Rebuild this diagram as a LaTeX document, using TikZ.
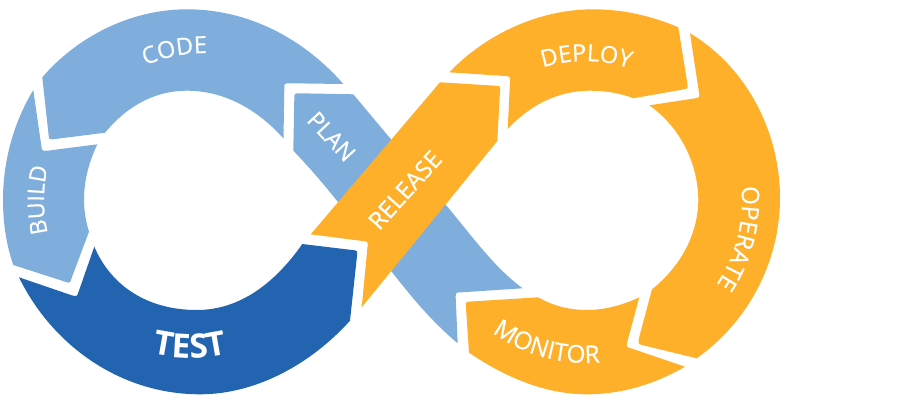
\documentclass[tikz,border=0pt]{standalone}
\usepackage{fontspec}
\usetikzlibrary{decorations.text}
\setmainfont{Open Sans}
\newfontfamily\medfont{Open Sans}[RawFeature={embolden=0.5}]
\definecolor{lblue}{HTML}{7FAEDD}
\definecolor{dblue}{HTML}{2264B0}
\definecolor{amber}{HTML}{FFB02B}
\tikzset{
  seglight/.style={fill=lblue,draw=none},
  segdark/.style={fill=dblue,draw=none},
  segamber/.style={fill=amber,draw=none},
  lab/.style={text=white,inner sep=0pt,font=\fontsize{22}{24}\selectfont\medfont}
}
% centre x, centre y, radius, start angle, end angle, font commands, text
\newcommand{\curvelab}[7]{%
  \path[decorate,decoration={text along path,text align=center,
      text={|\color{white}#6|#7}}]
    plot[domain=#4:#5,samples=61] ({#1+#3*cos(\x)},{#2+#3*sin(\x)});}
\begin{document}
\begin{tikzpicture}[x=1pt,y=-1pt]
\useasboundingbox (0,0) rectangle (898,400);
% PLAN ribbon
\fill[seglight] (353.3,94.3) -- (446,205) .. controls (475,240) and (495,268) .. (522.7,288.3)
  -- (461.7,292.3) .. controls (455.7,292.5) .. (455.7,297.5) -- (457.7,343.3)
  .. controls (430,320) and (410,295) .. (391.7,271.7) -- (337.7,201.7)
  .. controls (322,182) and (308,166) .. (293.3,150.7)
  -- (294.3,99) .. controls (294.3,93.3) .. (300,93.3) -- cycle;
% CODE
\fill[seglight] (42.3,77.3) .. controls (77,37) and (130,9.3) .. (187,9.3)
  .. controls (250,9.3) and (305,40) .. (343.3,84)
  -- (290,83.3) .. controls (284.3,83.3) .. (284.3,89) -- (283.5,138.5)
  .. controls (258,110) and (225,90.7) .. (186.7,90.7)
  .. controls (155,90.7) and (127,106) .. (105,132.7)
  -- (55,139) .. controls (49,139.8) .. (48.5,134) -- cycle;
% BUILD
\fill[seglight] (33.3,90) -- (41.2,145) .. controls (42,151) .. (47.5,150.7) -- (97.3,144.3)
  .. controls (89,162) and (84,180) .. (84,200)
  .. controls (84,211) and (86,222) .. (89,231.7)
  -- (72,277) .. controls (70,283.5) .. (64.5,281.5) -- (13.3,265)
  .. controls (6,244) and (3,222) .. (3,200)
  .. controls (3,160) and (14,122) .. (33.3,90) -- cycle;
% TEST
\fill[segdark] (19,277.3) -- (71.7,295.3) .. controls (77,296.5) .. (78.5,292) -- (94.3,246.7)
  .. controls (112,288) and (150,310) .. (196.7,310)
  .. controls (240,310) and (275,283) .. (302.3,244)
  -- (352,250) .. controls (357.5,250.5) .. (357,256) -- (350,320.7)
  .. controls (310,365) and (255,394.3) .. (200,394.3)
  .. controls (120,394.3) and (52,345) .. (19,277.3) -- cycle;
% RELEASE
\fill[segamber] (440,82.3) -- (495,85.7) .. controls (500.5,86) .. (500,91.5) -- (497.3,141) -- (361.7,307.3)
  -- (367.5,247) .. controls (368,241.5) .. (362.5,241) -- (310.7,234.3) -- cycle;
% DEPLOY
\fill[segamber] (449.3,72.3) .. controls (485,35) and (538,9.3) .. (593.3,9.3)
  .. controls (623,9.3) and (652,16) .. (678.3,27.3)
  -- (687.3,83) .. controls (688,88.5) .. (683,89.5) -- (633.3,98.3)
  .. controls (620,93) and (605,90.7) .. (590,90.7)
  .. controls (558,90.7) and (530,105) .. (507.7,129)
  -- (510,82) .. controls (510.3,76.5) .. (505,76) -- cycle;
% OPERATE
\fill[segamber] (690,33.3) .. controls (745,66) and (780,130) .. (780,198)
  .. controls (780,262) and (748,322) .. (696.7,358.3)
  -- (644,345.5) .. controls (638,344) .. (639,338) -- (652,289.3)
  .. controls (680,267) and (698,235) .. (698.3,200)
  .. controls (698,163) and (680,127) .. (649.3,105.3)
  -- (694,98.5) .. controls (699.8,97.5) .. (699,92.5) -- cycle;
% MONITOR
\fill[segamber] (538.3,297.3) .. controls (553,306) and (570,310) .. (586.7,310)
  .. controls (605,310) and (623,305) .. (639.3,297.3)
  -- (627.5,341) .. controls (626,347) .. (631.5,348.5) -- (685,366.7)
  .. controls (655,384) and (622,394.3) .. (586.7,394.3)
  .. controls (545,394.3) and (505,377) .. (469,352.7)
  -- (466,307) .. controls (465.8,301.8) .. (471,301.5) -- cycle;
% labels
\curvelab{205}{200}{147}{-136.5}{-66.5}{\medfont\fontsize{23.5}{26}\selectfont}{CODE}
\curvelab{190}{200}{146}{145}{215}{\medfont\fontsize{23}{25}\selectfont}{BUILD}
\curvelab{190}{200}{158}{130}{50}{\fontsize{33.5}{36}\selectfont\bfseries}{TEST}
\node[lab,rotate=-47,font=\fontsize{23}{25}\selectfont\medfont] (plan) at (331.5,136.5) {PLAN};
\node[lab,rotate=48,font=\fontsize{24}{26}\selectfont\medfont] (release) at (405,190) {RELEASE};
\curvelab{585}{200}{139}{-124.5}{-54.5}{\medfont\fontsize{23.5}{26}\selectfont}{DEPLOY}
\curvelab{590}{200}{152}{-35.7}{64.3}{\medfont\fontsize{24}{27}\selectfont}{OPERATE}
\curvelab{587}{200}{163}{145.5}{65.5}{\medfont\fontsize{24.5}{26}\selectfont}{MONITOR}
\end{tikzpicture}
\end{document}
